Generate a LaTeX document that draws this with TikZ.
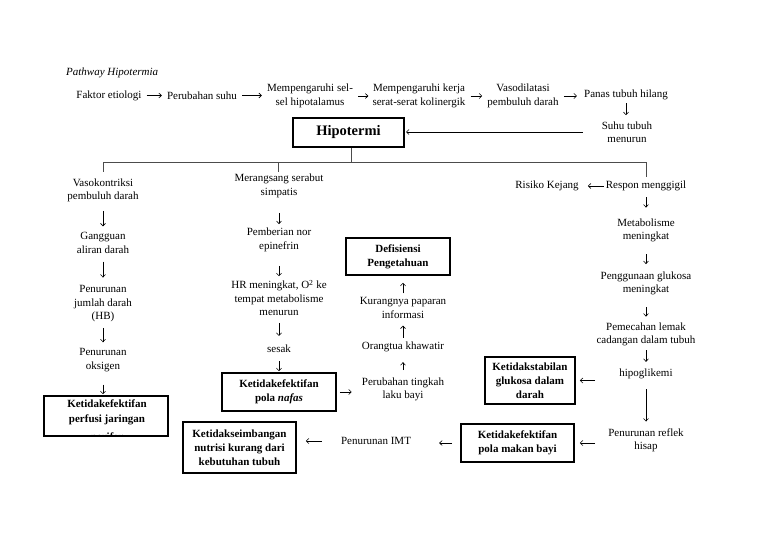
\documentclass[tikz,border=0pt]{standalone}
\usepackage{fontspec}
\setmainfont{Liberation Serif}
\usetikzlibrary{arrows.meta}
\tikzset{
  txt/.style={align=center, inner sep=0pt, font=\fontsize{11}{13.5}\selectfont},
  bx/.style={draw, line width=1.6pt, align=center, inner sep=0pt, font=\bfseries\fontsize{11}{14}\selectfont},
  bxt/.style={align=center, inner sep=0pt, font=\bfseries\fontsize{11}{15}\selectfont},
  arr/.style={-{Straight Barb[length=2.6pt,width=5pt]}, line width=0.6pt},
  tree/.style={line width=0.8pt, draw=black!70},
}
\begin{document}
\begin{tikzpicture}[x=1pt,y=-1pt]
\useasboundingbox (0,0) rectangle (768,543);
\fill[white] (0,0) rectangle (768,543);

% title
\node[txt, anchor=west, font=\itshape\fontsize{11}{13.5}\selectfont] (title) at (66,73) {Pathway Hipotermia};

% row 1
\node[txt] (etio) at (109,95.5) {Faktor etiologi};
\node[txt] (perub) at (202,95.5) {Perubahan suhu};
\node[txt] (selsel) at (310,96) {Mempengaruhi sel-\\sel hipotalamus};
\node[txt] (kolin) at (419,96) {Mempengaruhi kerja\\serat-serat kolinergik};
\node[txt] (vasod) at (523,96) {Vasodilatasi\\pembuluh darah};
\node[txt] (panas) at (626,95) {Panas tubuh hilang};
\node[txt] (suhu) at (627,132) {Suhu tubuh\\menurun};

\draw[arr, shorten <=5pt, shorten >=5pt] (etio.east) -- (etio.east -| perub.west);
\draw[arr, shorten <=5pt, shorten >=5pt] (perub.east) -- (perub.east -| selsel.west);
\draw[arr, shorten <=5pt, shorten >=4pt] (selsel.east) -- (selsel.east -| kolin.west);
\draw[arr, shorten <=5pt, shorten >=5pt] (kolin.east) -- (kolin.east -| vasod.west);
\draw[arr, shorten <=5pt, shorten >=7pt] (vasod.east) -- (vasod.east -| panas.west);
\draw[arr, shorten <=3pt, shorten >=6pt] (panas.south) -- (panas.south |- suhu.north);

% Hipotermi
\node[draw, line width=2pt, minimum width=111pt, minimum height=29pt, inner sep=0pt,
      font=\bfseries\fontsize{14.5}{16}\selectfont] (hipo) at (348.5,132.5) {Hipotermi};
\draw[arr, shorten <=19pt, shorten >=1pt] (suhu.west) -- (suhu.west -| hipo.east);

% tree
\coordinate (tl) at (103,162);
\coordinate (tm) at (278,162);
\coordinate (tr) at (646,162);
\coordinate (tj) at (351,162);
\draw[tree] (tj |- hipo.south) -- (tj);
\draw[tree] (tl) -- (tr);
\draw[tree] (tl) -- ++(0,10);
\draw[tree] (tm) -- ++(0,10);
\draw[tree] (tr) -- ++(0,15);

% left column
\node[txt] (vaso) at (103,190.5) {Vasokontriksi\\pembuluh darah};
\node[txt] (gang) at (103,243) {Gangguan\\aliran darah};
\node[txt] (jml) at (103,304) {Penurunan\\jumlah darah\\(HB)};
\node[txt] (oks) at (103,360) {Penurunan\\oksigen};
\node[bx, minimum width=124pt, minimum height=40pt] (perf) at (106,416) {};
\begin{scope}
  \clip ([xshift=0.8pt,yshift=0.8pt]perf.south west) rectangle ([xshift=-0.8pt,yshift=-0.8pt]perf.north east);
  \node[bxt, anchor=north] (perft) at (107,400) {Ketidakefektifan\\perfusi jaringan\\[3pt]perifer};
\end{scope}

\draw[arr, shorten <=8.5pt, shorten >=6pt] (vaso.south) -- (gang.north);
\draw[arr, shorten <=8pt, shorten >=8pt] (gang.south) -- (jml.north);
\draw[arr, shorten <=5.5pt, shorten >=6pt] (jml.south) -- (oks.north);
\draw[arr, shorten <=13pt, shorten >=1pt] (oks.south) -- (oks.south |- perf.north);

% middle column
\node[txt] (mer) at (279,186) {Merangsang serabut\\simpatis};
\node[txt] (pem) at (279,240) {Pemberian nor\\epinefrin};
\node[txt] (hr) at (279,298) {HR meningkat, O\textsuperscript{2} ke\\tempat metabolisme\\menurun};
\node[txt] (sesak) at (279,349) {sesak};
\node[bx, minimum width=114pt, minimum height=38pt] (pnafas) at (279,392) {Ketidakefektifan\\pola \textit{nafas}};

\draw[arr, shorten <=15pt, shorten >=4pt] (mer.south) -- (pem.north);
\draw[arr, shorten <=14pt, shorten >=3.5pt] (pem.south) -- (hr.north);
\draw[arr, shorten <=6.5pt, shorten >=9pt] (hr.south) -- (sesak.north);
\draw[arr, shorten <=8pt, shorten >=1pt] (sesak.south) -- (pnafas.north);

% center column
\node[txt] (pert) at (403,389.5) {Perubahan tingkah\\laku bayi};
\node[txt] (orang) at (403,347) {Orangtua khawatir};
\node[txt] (kur) at (403,308) {Kurangnya paparan\\informasi};
\node[bx, minimum width=104pt, minimum height=37pt] (def) at (398,256.5) {Defisiensi\\Pengetahuan};

\draw[arr, shorten <=3pt, shorten >=10pt] (pnafas.east) -- (pnafas.east -| pert.west);
\draw[arr, shorten <=7.5pt, shorten >=10pt] (pert.north) -- (orang.south);
\draw[arr, shorten <=4pt, shorten >=7pt] (orang.north) -- (kur.south);
\draw[arr, shorten <=4pt, shorten >=7pt] (kur.north) -- (kur.north |- def.south);

% right column
\node[txt] (respon) at (646,186) {Respon menggigil};
\node[txt] (risiko) at (547,186) {Risiko Kejang};
\node[txt] (meta) at (646,230.5) {Metabolisme\\meningkat};
\node[txt] (peng) at (646,283.5) {Penggunaan glukosa\\meningkat};
\node[txt] (pemec) at (646,334.5) {Pemecahan lemak\\cadangan dalam tubuh};
\node[txt] (hipog) at (646,374) {hipoglikemi};
\node[txt] (refl) at (646,440.5) {Penurunan reflek\\hisap};
\node[bx, minimum width=90pt, minimum height=47pt] (kstab) at (530,380.5) {Ketidakstabilan\\glukosa dalam\\darah};
\node[bx, minimum width=113pt, minimum height=38pt] (pmakan) at (517.5,443) {Ketidakefektifan\\pola makan bayi};
\node[txt] (imt) at (376,441) {Penurunan IMT};
\node[bx, minimum width=113pt, minimum height=51pt] (kseimb) at (239.5,447.5) {Ketidakseimbangan\\nutrisi kurang dari\\kebutuhan tubuh};

\draw[arr, shorten <=2pt, shorten >=9pt] (respon.west) -- (risiko.east);
\draw[arr, shorten <=6pt, shorten >=11pt] (respon.south) -- (meta.north);
\draw[arr, shorten <=12pt, shorten >=7.5pt] (meta.south) -- (peng.north);
\draw[arr, shorten <=12pt, shorten >=6pt] (peng.south) -- (pemec.north);
\draw[arr, shorten <=4pt, shorten >=7pt] (pemec.south) -- (hipog.north);
\draw[arr, shorten <=10pt, shorten >=7pt] (hipog.south) -- (refl.north);
\draw[arr, shorten <=24pt, shorten >=4pt] (hipog.west |- kstab.east) -- (kstab.east);
\draw[arr, shorten <=13pt, shorten >=5pt] (refl.west |- pmakan.east) -- (pmakan.east);
\draw[arr, shorten <=8pt, shorten >=28pt] (pmakan.west) -- (pmakan.west -| imt.east);
\draw[arr, shorten <=19pt, shorten >=9pt] (imt.west) -- (imt.west -| kseimb.east);
\end{tikzpicture}
\end{document}
